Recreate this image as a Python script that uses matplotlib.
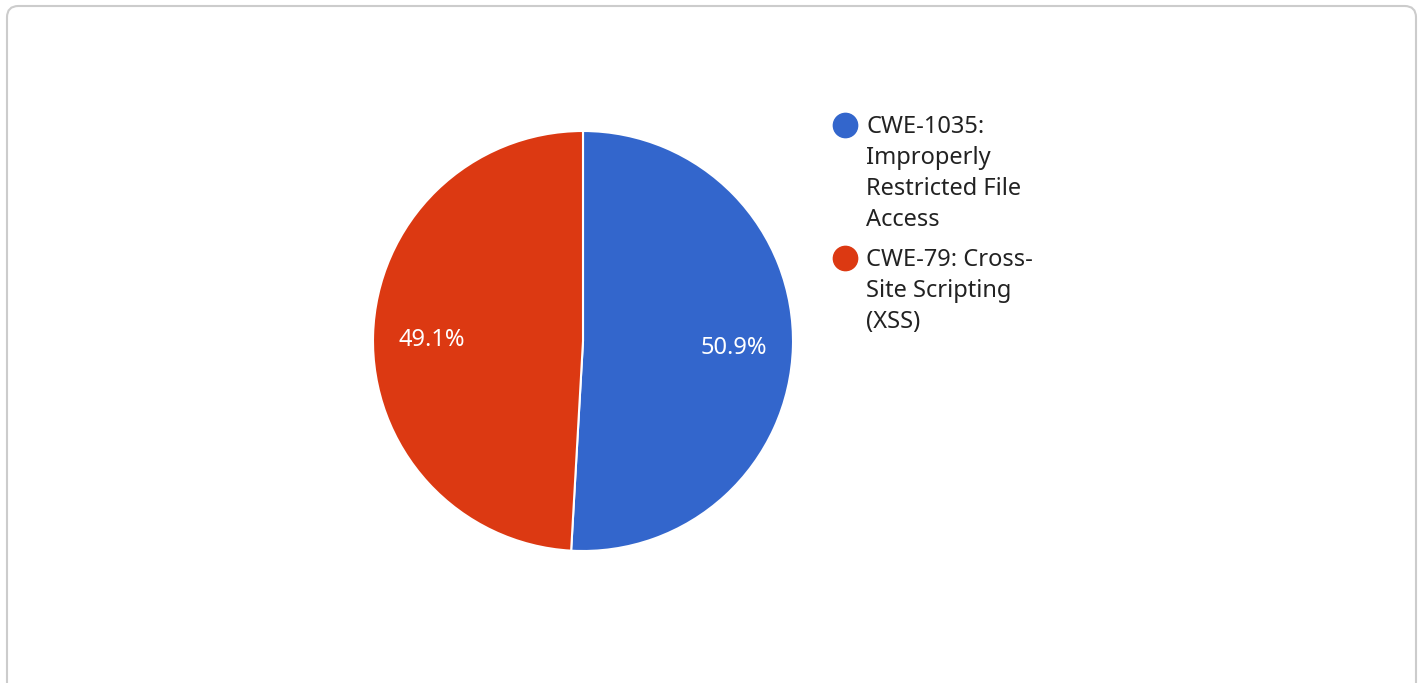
import matplotlib.pyplot as plt
from matplotlib.patches import FancyBboxPatch

# data
labels = ['CWE-1035:\nImproperly\nRestricted File\nAccess',
          'CWE-79: Cross-\nSite Scripting\n(XSS)']
values = [50.9, 49.1]
colors = ['#3366cc', '#dc3912']

plt.rcParams['font.family'] = ['Noto Sans', 'DejaVu Sans']

W, H = 1422, 683
fig = plt.figure(figsize=(W / 100, H / 100), dpi=100)

# rounded frame round the whole card (bottom runs off the image)
frame = FancyBboxPatch((7 / W, -20 / H), (1416 - 7) / W, (683 - 6 + 20) / H,
                       boxstyle='round,pad=0,rounding_size=0.008',
                       transform=fig.transFigure, fc='none', ec='#cccccc',
                       lw=1.5, mutation_aspect=W / H, zorder=-1)
fig.patches.append(frame)

# pie: centre (583, 341) px, radius 210 px
cx, cy, r = 583, 341, 210
ax = fig.add_axes([(cx - r) / W, (H - cy - r) / H, 2 * r / W, 2 * r / H])
wedges, texts, autotexts = ax.pie(values, colors=colors, startangle=90,
                                  counterclock=False, autopct='%.1f%%',
                                  pctdistance=0.72,
                                  wedgeprops=dict(edgecolor='white', linewidth=1.5),
                                  textprops=dict(color='white', fontsize=17))
# nudge the percentages down a touch
for t in autotexts:
    x, y = t.get_position()
    t.set_position((x, y - 0.015))
ax.set_xlim(-1, 1)
ax.set_ylim(-1, 1)
ax.set_aspect('equal')
ax.axis('off')

# legend drawn by hand so the dot sits at the first line
leg_y = [125, 258]
for lab, col, y in zip(labels, colors, leg_y):
    fig.lines.append(plt.Line2D([845 / W], [1 - y / H], marker='o', markersize=17.5,
                                color=col, transform=fig.transFigure))
    fig.text(866 / W, 1 - (y - 10) / H, lab, fontsize=17, color='#222222',
             va='top', ha='left', linespacing=1.38)

fig.savefig('out.png', dpi=100)
